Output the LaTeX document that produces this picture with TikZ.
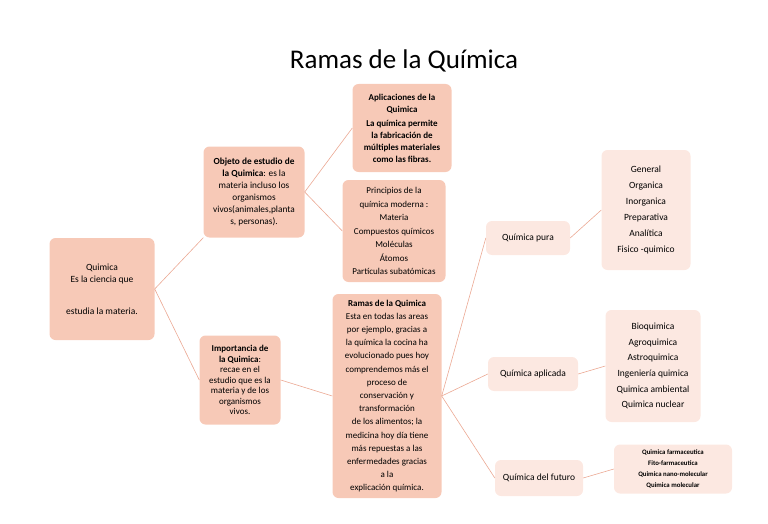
\documentclass[tikz,border=0pt]{standalone}
\usepackage{fontspec}
\setmainfont{Carlito}
\definecolor{dark}{HTML}{F7C9B7}
\definecolor{light}{HTML}{FCE8E1}
\definecolor{lnc}{HTML}{EBA893}
\begin{document}
\begin{tikzpicture}[x=1pt,y=-1pt,
 box/.style={rounded corners=6pt,inner sep=2pt,align=center,font=\fontsize{9.5}{12}\selectfont},
 dbox/.style={box,fill=dark},
 lbox/.style={box,fill=light},
 ln/.style={draw=lnc,line width=0.6pt}]
\useasboundingbox (0,0) rectangle (768,524);
\node[font=\fontsize{27}{30}\selectfont] (title) at (404,61) {Ramas de la Química};
\node[dbox,minimum width=105pt,minimum height=102pt] (q) at (102,289) {Quimica\\Es la ciencia que\\[20pt]estudia la materia.};
\node[dbox,minimum width=101pt,minimum height=91pt,font=\fontsize{9.3}{12}\selectfont] (obj) at (254,192) {\textbf{Objeto de estudio de}\\\textbf{la Quimica}: es la\\materia incluso los\\organismos\\vivos(animales,planta\\s, personas).};
\node[dbox,minimum width=81pt,minimum height=89pt,font=\fontsize{9}{10.5}\selectfont] (imp) at (240,380) {\textbf{Importancia de}\\\textbf{la Quimica}:\\recae en el\\estudio que es la\\materia y de los\\organismos\\vivos.};
\node[dbox,minimum width=99pt,minimum height=88pt,font=\bfseries\fontsize{9}{12}\selectfont] (apl) at (402,128) {Aplicaciones de la\\Quimica\\[2pt]La química permite\\la fabricación de\\múltiples materiales\\como las fibras.};
\node[dbox,minimum width=103pt,minimum height=102pt,font=\fontsize{9}{13.5}\selectfont] (pri) at (394,231) {Principios de la\\química moderna :\\Materia\\Compuestos químicos\\Moléculas\\Átomos\\Partículas subatómicas};
\node[dbox,minimum width=109pt,minimum height=204pt,font=\fontsize{9}{13.2}\selectfont] (ram) at (387,396) {\textbf{Ramas de la Quimica}\\Esta en todas las areas\\por ejemplo, gracias a\\la química la cocina ha\\evolucionado pues hoy\\comprendemos más el\\proceso de\\conservación y\\transformación\\de los alimentos; la\\medicina hoy día tiene\\más repuestas a las\\enfermedades gracias\\a la\\explicación química.};
\node[lbox,minimum width=84pt,minimum height=34pt] (pura) at (528,238) {Química pura};
\node[lbox,minimum width=90pt,minimum height=34pt] (apli) at (533,374) {Química aplicada};
\node[lbox,minimum width=88pt,minimum height=36pt] (fut) at (539,478) {Química del futuro};
\node[lbox,minimum width=89pt,minimum height=120pt,font=\fontsize{9.5}{16}\selectfont] (gen) at (646,210) {General\\Organica\\Inorganica\\Preparativa\\Analítica\\Fisico -quimico};
\node[lbox,minimum width=95pt,minimum height=112pt,font=\fontsize{9.5}{15.7}\selectfont] (bio) at (653,366) {Bioquimica\\Agroquimica\\Astroquimica\\Ingeniería quimica\\Quimica ambiental\\Quimica nuclear};
\node[lbox,minimum width=118pt,minimum height=49pt,font=\bfseries\fontsize{6.8}{11}\selectfont] (far) at (673,469) {Quimica farmaceutica\\Fito-farmaceutica\\Quimica nano-molecular\\Quimica molecular};
\draw[ln] (q.east) -- (obj.south west);
\draw[ln] (q.east) -- (imp.west);
\draw[ln] (obj.east) -- (apl.west);
\draw[ln] (obj.east) -- (pri.west);
\draw[ln] (imp.east) -- (ram.west);
\draw[ln] (ram.east) -- (pura.west);
\draw[ln] (ram.east) -- (apli.west);
\draw[ln] (ram.east) -- (fut.west);
\draw[ln] (pura.east) -- (gen.west);
\draw[ln] (apli.east) -- (bio.west);
\draw[ln] (fut.east) -- (far.west);
\end{tikzpicture}
\end{document}
